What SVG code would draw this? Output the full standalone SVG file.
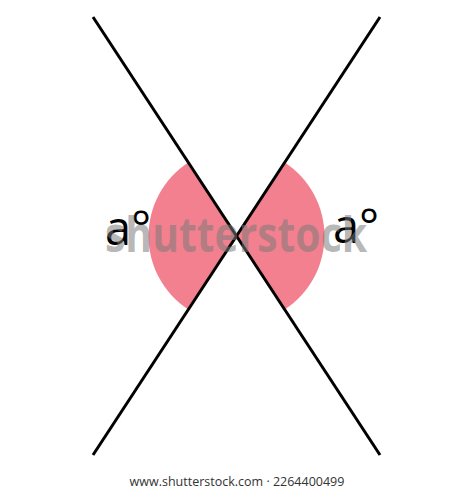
<svg xmlns="http://www.w3.org/2000/svg" width="474" height="489" viewBox="0 0 474 489">
<style>
.sector{fill:#F2808F}
.line{stroke:#000;stroke-width:3;stroke-linecap:butt;fill:none}
.lbl{font-family:"Open Sans","Noto Sans",sans-serif;font-size:47px;font-weight:500;fill:#000}
.wm{font-family:"Open Sans","Noto Sans",sans-serif;font-weight:bold;font-size:48px;fill:#7a7a7a;fill-opacity:0.55}
.cap{font-family:"Open Sans","Noto Sans",sans-serif;font-size:12.5px;fill:#333}
</style>
<rect width="474" height="489" fill="#fff"/>
<g id="angle-left">
<path class="sector" d="M236.5,236 L188.3,162.4 A88,88 0 0 0 188.3,309.6 Z"/>
</g>
<g id="angle-right">
<path class="sector" d="M236.5,236 L284.7,162.4 A88,88 0 0 1 284.7,309.6 Z"/>
</g>
<g id="lines">
<line class="line" x1="93" y1="17" x2="380" y2="455"/>
<line class="line" x1="380" y1="17" x2="93" y2="455"/>
</g>
<g id="label-left"><text class="lbl" x="105" y="245">a°</text></g>
<g id="label-right"><text class="lbl" x="333" y="243">a°</text></g>
<text class="wm" x="105" y="252" textLength="262" lengthAdjust="spacingAndGlyphs">shutterstock</text>
<text class="cap" x="237" y="486" text-anchor="middle">www.shutterstock.com · 2264400499</text>
</svg>
